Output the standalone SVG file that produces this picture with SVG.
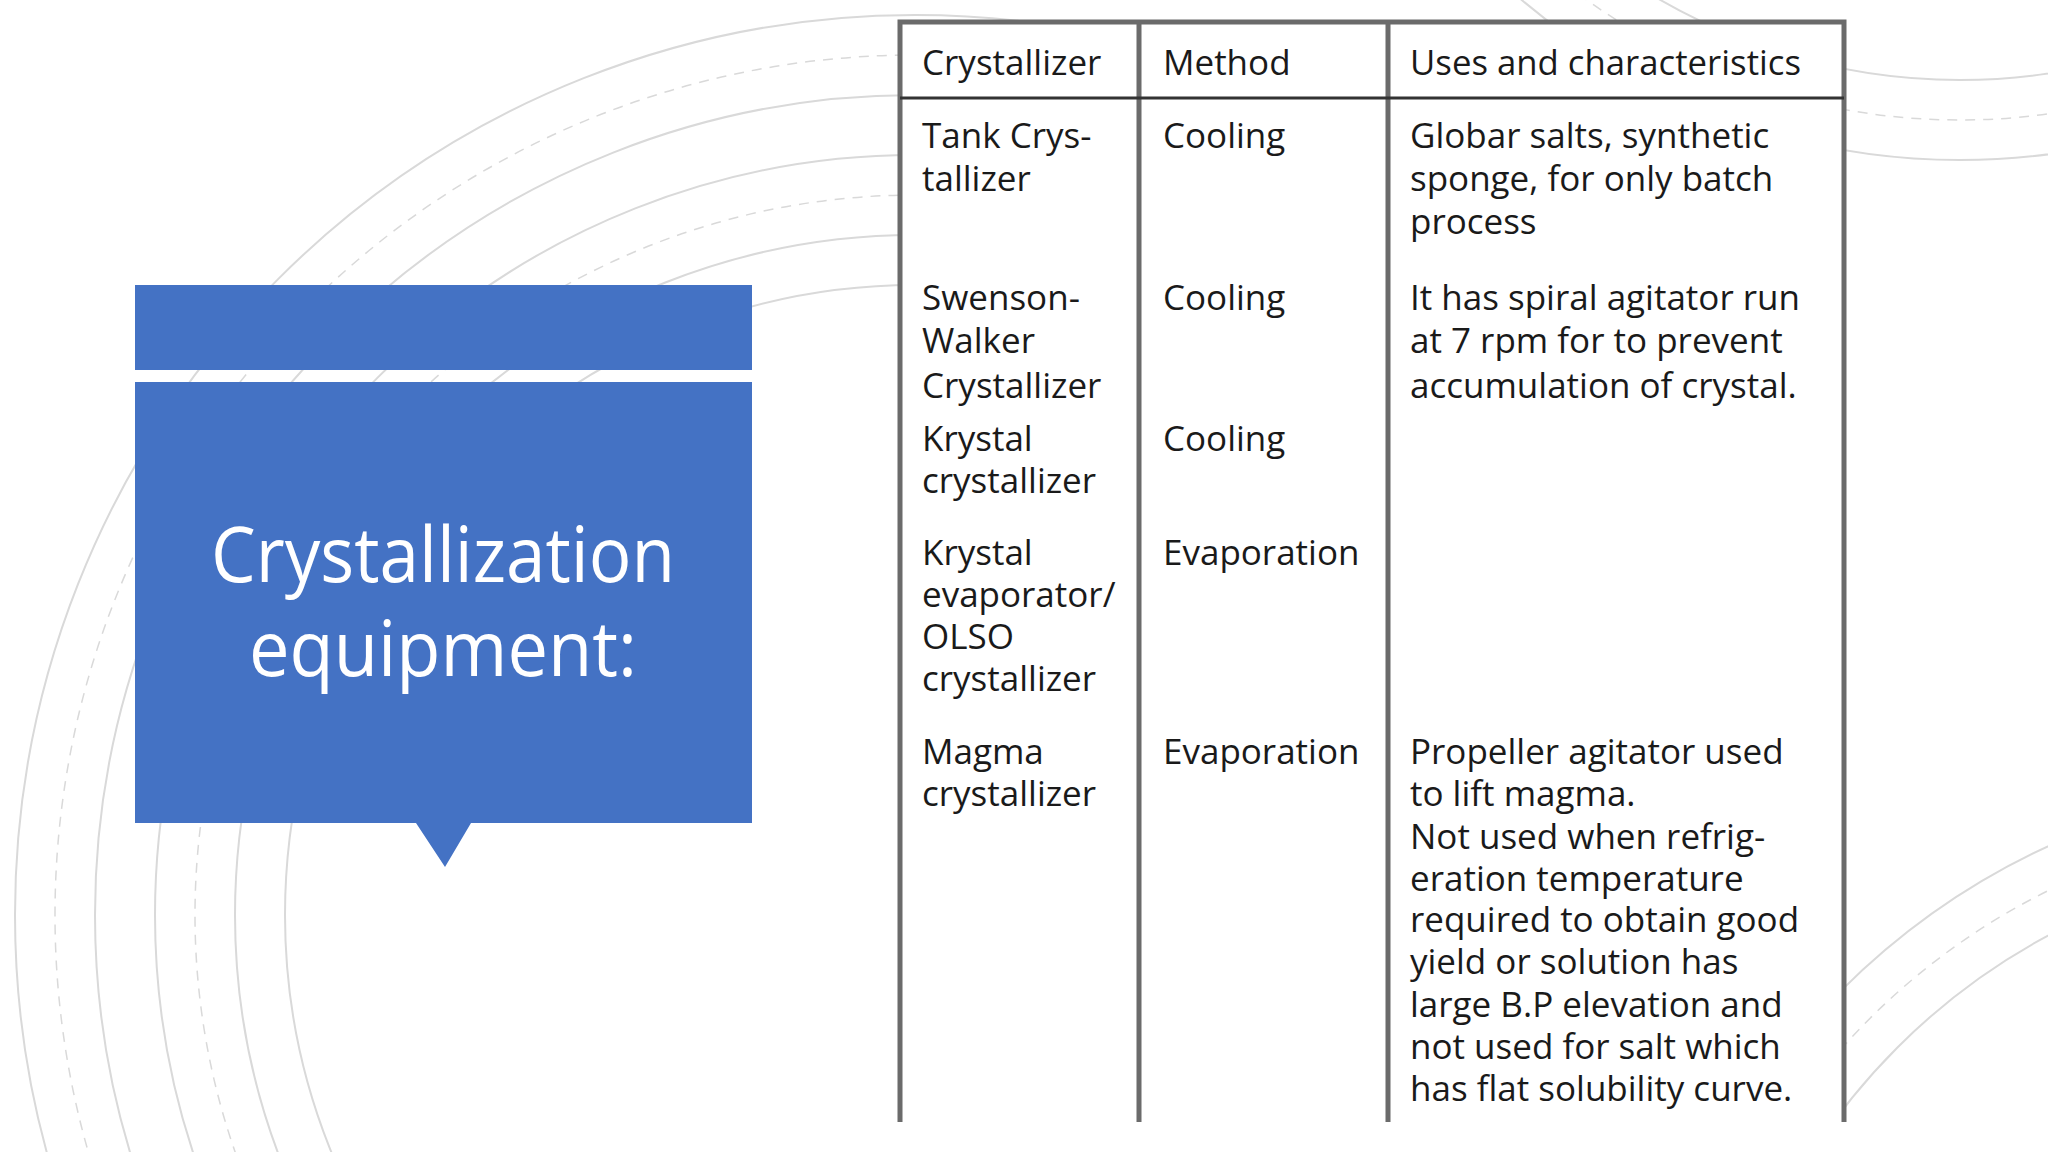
<svg xmlns="http://www.w3.org/2000/svg" width="2048" height="1152" viewBox="0 0 2048 1152">
<style>
.arc{fill:none;stroke:#d9d9d9;stroke-width:2}
.dash{fill:none;stroke:#d9d9d9;stroke-width:1.5;stroke-dasharray:10 8}
.t{font-family:"Open Sans","Noto Sans",sans-serif;font-size:35px;fill:#1a1a1a}
.g{stroke:#6b6b6b;stroke-width:5;fill:none}
.k{stroke:#333;stroke-width:3}
</style>
<rect width="2048" height="1152" fill="#fff"/>
<g id="background">
<circle class="arc" cx="915" cy="915" r="900"/>
<circle class="dash" cx="915" cy="915" r="860"/>
<circle class="arc" cx="915" cy="915" r="820"/>
<circle class="arc" cx="915" cy="915" r="760"/>
<circle class="dash" cx="915" cy="915" r="720"/>
<circle class="arc" cx="915" cy="915" r="680"/>
<circle class="arc" cx="915" cy="915" r="630"/>
<circle class="arc" cx="2350" cy="1500" r="720"/>
<circle class="dash" cx="2350" cy="1500" r="680"/>
<circle class="arc" cx="2350" cy="1500" r="640"/>
<circle class="arc" cx="1960" cy="-520" r="600"/>
<circle class="dash" cx="1960" cy="-520" r="640"/>
<circle class="arc" cx="1960" cy="-520" r="680"/>
</g>
<g id="title">
<rect x="135" y="285" width="617" height="85" fill="#4472c4"/>
<path d="M135 382H752V823H471L445 867L416 823H135Z" fill="#4472c4"/>
<text x="443" y="582" text-anchor="middle" font-family="'Open Sans','Noto Sans',sans-serif" font-size="76" fill="#fff" textLength="464" lengthAdjust="spacingAndGlyphs">Crystallization</text>
<text x="443" y="676" text-anchor="middle" font-family="'Open Sans','Noto Sans',sans-serif" font-size="76" fill="#fff" textLength="388" lengthAdjust="spacingAndGlyphs">equipment:</text>
</g>
<g id="table">
<rect x="900" y="22" width="944" height="1130" fill="#fff"/>
<path class="g" d="M900 1122V22H1844V1122M1139 22V1122M1388 22V1122"/>
<line class="k" x1="900" y1="98" x2="1844" y2="98"/>
<text class="t" x="922" y="75">Crystallizer</text>
<text class="t" x="1163" y="75">Method</text>
<text class="t" x="1410" y="75" textLength="391" lengthAdjust="spacingAndGlyphs">Uses and characteristics</text>
<text class="t" x="922" y="148">Tank Crys-</text>
<text class="t" x="922" y="191">tallizer</text>
<text class="t" x="1163" y="148">Cooling</text>
<text class="t" x="1410" y="148">Globar salts, synthetic</text>
<text class="t" x="1410" y="191">sponge, for only batch</text>
<text class="t" x="1410" y="234">process</text>
<text class="t" x="922" y="310">Swenson-</text>
<text class="t" x="922" y="353">Walker</text>
<text class="t" x="922" y="398">Crystallizer</text>
<text class="t" x="1163" y="310">Cooling</text>
<text class="t" x="1410" y="310">It has spiral agitator run</text>
<text class="t" x="1410" y="353">at 7 rpm for to prevent</text>
<text class="t" x="1410" y="398">accumulation of crystal.</text>
<text class="t" x="922" y="451">Krystal</text>
<text class="t" x="922" y="493">crystallizer</text>
<text class="t" x="1163" y="451">Cooling</text>
<text class="t" x="922" y="565">Krystal</text>
<text class="t" x="922" y="607">evaporator/</text>
<text class="t" x="922" y="649">OLSO</text>
<text class="t" x="922" y="691">crystallizer</text>
<text class="t" x="1163" y="565">Evaporation</text>
<text class="t" x="922" y="764">Magma</text>
<text class="t" x="922" y="806">crystallizer</text>
<text class="t" x="1163" y="764">Evaporation</text>
<text class="t" x="1410" y="764">Propeller agitator used</text>
<text class="t" x="1410" y="806">to lift magma.</text>
<text class="t" x="1410" y="849">Not used when refrig-</text>
<text class="t" x="1410" y="891">eration temperature</text>
<text class="t" x="1410" y="932">required to obtain good</text>
<text class="t" x="1410" y="974">yield or solution has</text>
<text class="t" x="1410" y="1017">large B.P elevation and</text>
<text class="t" x="1410" y="1059">not used for salt which</text>
<text class="t" x="1410" y="1101">has flat solubility curve.</text>
</g>
</svg>
